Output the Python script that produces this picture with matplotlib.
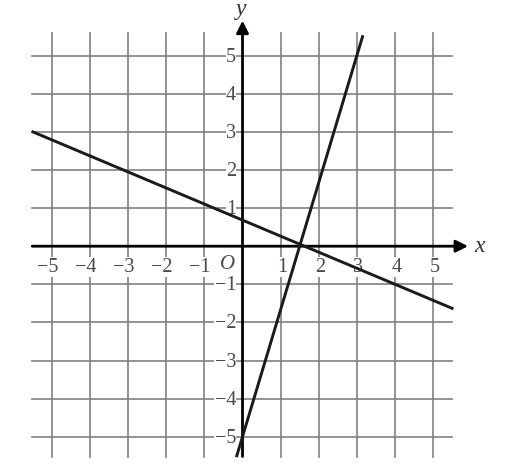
import matplotlib
matplotlib.use("Agg")
import matplotlib.pyplot as plt

# grid / tick values
grid_vals = [-5, -4, -3, -2, -1, 1, 2, 3, 4, 5]
tick_text = ['\u22125', '\u22124', '\u22123', '\u22122', '\u22121', '1', '2', '3', '4', '5']

# the two lines (end points)
shallow_x = [-5.5, 5.5]
shallow_y = [3.0, -1.63]
steep_x = [-0.15, 3.15]
steep_y = [-5.5, 5.5]

fig = plt.figure(figsize=(5.23, 4.75), dpi=100)
ax = fig.add_axes([0, 0, 1, 1])
ax.set_xlim(-6.365, 7.362)
ax.set_ylim(-6.005, 6.462)
ax.axis('off')

serif = 'Liberation Serif'
gcol = '#808080'

# grid
for v in grid_vals:
    ax.plot([v, v], [-5.52, 5.6], color=gcol, lw=1.2, zorder=1)
    ax.plot([-5.52, 5.5], [v, v], color=gcol, lw=1.2, zorder=1)

# tick labels with white background (they cut the grid)
for v, t in zip(grid_vals, tick_text):
    ax.text(v + 0.17, -0.55, t, ha='right', va='center', fontsize=14.5,
            family=serif, color='#4a4a4a', zorder=3,
            bbox=dict(fc='white', ec='none', pad=0.2))
    ax.text(-0.17, v - 0.04, t, ha='right', va='center', fontsize=14.5,
            family=serif, color='#4a4a4a', zorder=3,
            bbox=dict(fc='white', ec='none', pad=0.2))

ax.text(-0.4, -0.47, 'O', ha='center', va='center', fontsize=15,
        family=serif, style='italic', color='#4a4a4a', zorder=3)

# axes with arrows
ax.annotate('', xy=(5.92, 0), xytext=(-5.52, 0),
            arrowprops=dict(arrowstyle='-|>', lw=2.0, color='black',
                            mutation_scale=18, shrinkA=0, shrinkB=0), zorder=4)
ax.annotate('', xy=(0, 5.92), xytext=(0, -5.52),
            arrowprops=dict(arrowstyle='-|>', lw=2.0, color='black',
                            mutation_scale=18, shrinkA=0, shrinkB=0), zorder=4)
ax.text(6.22, 0.0, 'x', ha='center', va='center', fontsize=17,
        family=serif, style='italic', color='#333333')
ax.text(-0.03, 6.2, 'y', ha='center', va='center', fontsize=17,
        family=serif, style='italic', color='#333333')

# lines
ax.plot(shallow_x, shallow_y, color='#1a1a1a', lw=2.1, zorder=5)
ax.plot(steep_x, steep_y, color='#1a1a1a', lw=2.1, zorder=5)

fig.savefig('out.png', dpi=100)
